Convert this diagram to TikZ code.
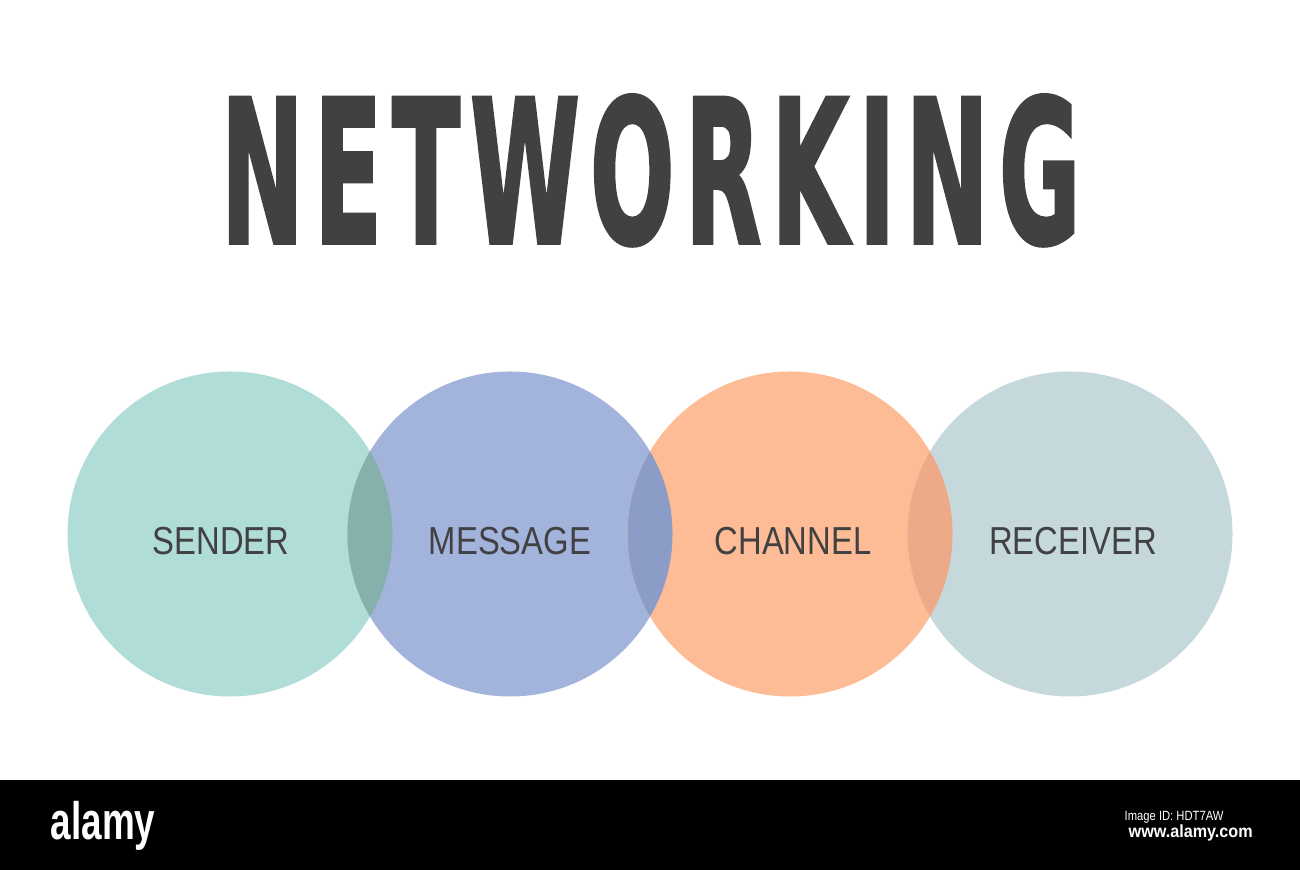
\documentclass[tikz,border=0pt]{standalone}
\usepackage{fontspec}
\usepackage{graphicx}
\setmainfont{Liberation Sans}
\newfontfamily\ttlfont[LetterSpace=10,FakeBold=2]{DejaVu Sans Bold}
\newfontfamily\lblfont[FakeStretch=0.84]{Liberation Sans}
\newfontfamily\wmfont[FakeStretch=0.7]{Liberation Sans Bold}
\newfontfamily\sitefont[FakeStretch=0.92]{Liberation Sans Bold}
\usetikzlibrary{positioning}

\definecolor{sendercol}{HTML}{B0DDD8}
\definecolor{messagecol}{HTML}{A3B4DC}
\definecolor{channelcol}{HTML}{FDBB96}
\definecolor{receivercol}{HTML}{C5D9DD}
\definecolor{sendermix}{HTML}{86B0AB}
\definecolor{messagemix}{HTML}{8B9DC6}
\definecolor{channelmix}{HTML}{EEAA88}
\definecolor{inkgray}{HTML}{414143}

\begin{document}
\begin{tikzpicture}[
  ring/.style={circle, minimum size=3.25cm, inner sep=0pt, outer sep=0pt},
  lbl/.style={font=\lblfont\fontsize{11.1}{13}\selectfont, text=inkgray},
  wm/.style={anchor=base west, inner sep=0pt, text=white},
  node distance=-0.45cm
]
\useasboundingbox (0,0) rectangle (13,8.7);
\fill[white] (0,0) rectangle (13,8.7);

\node[anchor=base west, inner sep=0pt, text=inkgray] (title) at (2.20,6.27) {\resizebox{8.6cm}{1.48cm}{\ttlfont NETWORKING}};

% the four stages
\node[ring, fill=sendercol] (sender) at (2.30,3.36) {};
\node[ring, fill=messagecol, right=of sender] (message) {};
\node[ring, fill=channelcol, right=of message] (channel) {};
\node[ring, fill=receivercol, right=of channel] (receiver) {};

% overlaps
\begin{scope}
  \clip (message.center) circle (1.625cm);
  \fill[sendermix] (sender.center) circle (1.625cm);
\end{scope}
\begin{scope}
  \clip (channel.center) circle (1.625cm);
  \fill[messagemix] (message.center) circle (1.625cm);
\end{scope}
\begin{scope}
  \clip (receiver.center) circle (1.625cm);
  \fill[channelmix] (channel.center) circle (1.625cm);
\end{scope}

\node[lbl] (senderlbl) at ([xshift=-0.09cm, yshift=-0.07cm]sender.center) {SENDER};
\node[lbl] (messagelbl) at ([yshift=-0.07cm]message.center) {MESSAGE};
\node[lbl] (channellbl) at ([xshift=0.03cm, yshift=-0.07cm]channel.center) {CHANNEL};
\node[lbl] (receiverlbl) at ([xshift=0.03cm, yshift=-0.07cm]receiver.center) {RECEIVER};

% footer band
\fill[black] (0,0) rectangle (13,0.9);
\node[wm, font=\wmfont\fontsize{15}{15}\selectfont] (brand) at (0.50,0.30) {alamy};
\node[wm, font=\lblfont\fontsize{3.8}{4}\selectfont] (imageid) at (11.24,0.49) {Image ID: HDT7AW};
\node[wm, font=\sitefont\fontsize{5}{6}\selectfont] (site) at (11.28,0.32) {www.alamy.com};
\end{tikzpicture}
\end{document}
